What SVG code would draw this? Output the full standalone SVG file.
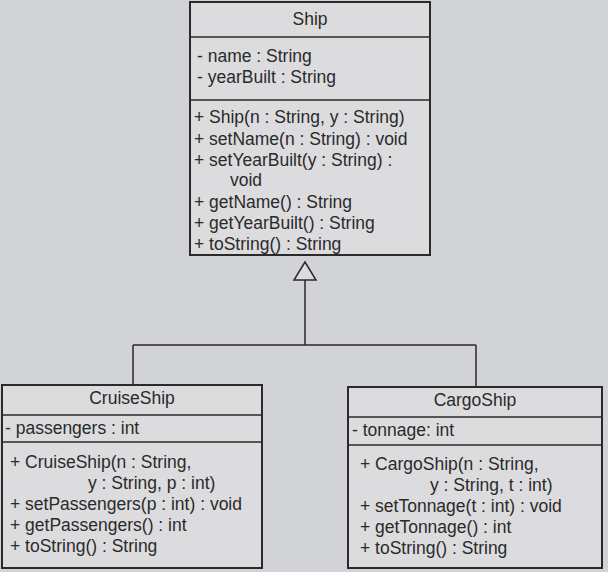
<svg xmlns="http://www.w3.org/2000/svg" width="608" height="572" viewBox="0 0 608 572">
<style>
.box{fill:#dcdcde;stroke:#2a2a2a;stroke-width:2}
.ln{stroke:#2a2a2a;stroke-width:1.5;fill:none}
text{font-family:"Liberation Sans",Arial,sans-serif;font-size:17.5px;fill:#2a2a2a}
.t{text-anchor:middle}
</style>
<rect width="608" height="572" fill="#d2d3d6"/>
<g id="connectors">
<path class="ln" d="M305 280 V345 M133 345 H476 M133 345 V385 M476 345 V387"/>
<polygon points="305,262 294,280 316,280" fill="#dcdcde" stroke="#2a2a2a" stroke-width="1.5"/>
</g>
<g id="Ship">
<rect class="box" x="190" y="2" width="240" height="253"/>
<path class="ln" d="M190 37 H430 M190 100 H430"/>
<text class="t" x="310" y="25">Ship</text>
<text x="197" y="62">- name : String</text>
<text x="197" y="83">- yearBuilt : String</text>
<text x="194" y="123">+ Ship(n : String, y : String)</text>
<text x="194" y="145">+ setName(n : String) : void</text>
<text x="194" y="166">+ setYearBuilt(y : String) :</text>
<text x="230" y="186">void</text>
<text x="194" y="208">+ getName() : String</text>
<text x="194" y="229">+ getYearBuilt() : String</text>
<text x="194" y="250">+ toString() : String</text>
</g>
<g id="CruiseShip">
<rect class="box" x="2" y="385" width="260" height="183"/>
<path class="ln" d="M2 415 H262 M2 442 H262"/>
<text class="t" x="132" y="404">CruiseShip</text>
<text x="5" y="434">- passengers : int</text>
<text x="10" y="468">+ CruiseShip(n : String,</text>
<text x="88" y="489">y : String, p : int)</text>
<text x="10" y="510">+ setPassengers(p : int) : void</text>
<text x="10" y="531">+ getPassengers() : int</text>
<text x="10" y="552">+ toString() : String</text>
</g>
<g id="CargoShip">
<rect class="box" x="348" y="387" width="254" height="181"/>
<path class="ln" d="M348 417 H602 M348 445 H602"/>
<text class="t" x="475" y="406">CargoShip</text>
<text x="352" y="436">- tonnage: int</text>
<text x="360" y="470">+ CargoShip(n : String,</text>
<text x="430" y="491">y : String, t : int)</text>
<text x="360" y="512">+ setTonnage(t : int) : void</text>
<text x="360" y="533">+ getTonnage() : int</text>
<text x="360" y="554">+ toString() : String</text>
</g>
</svg>
